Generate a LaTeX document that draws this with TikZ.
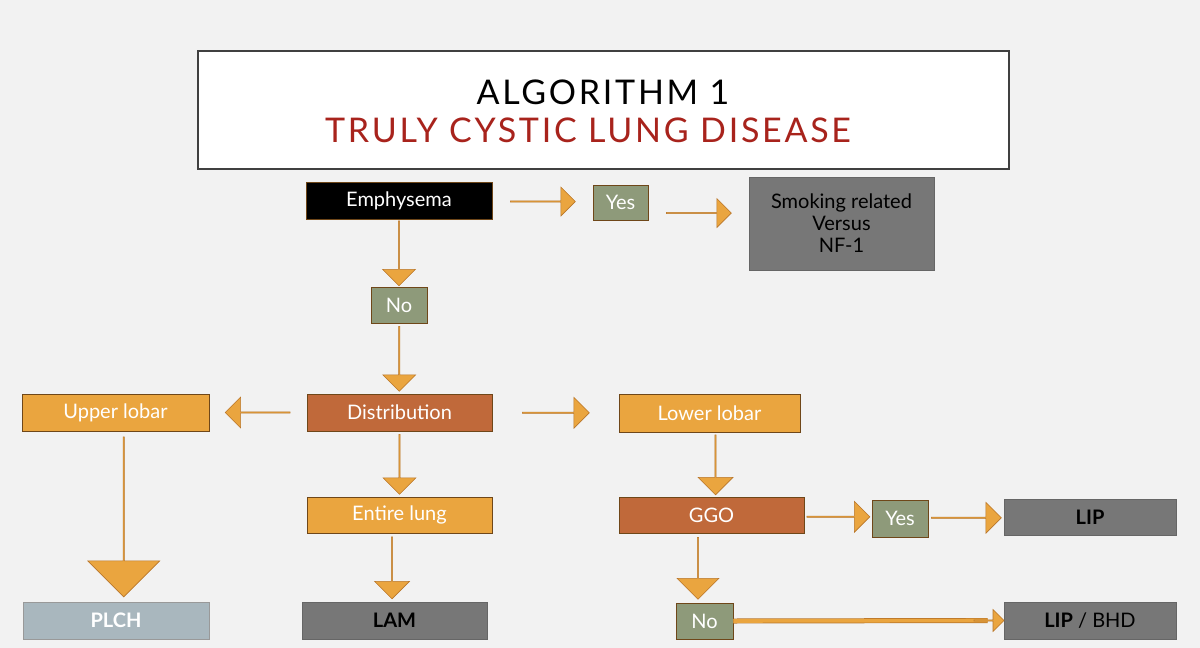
\documentclass[tikz,border=0pt]{standalone}
\usepackage{fontspec}
\setmainfont{Lato}
\usetikzlibrary{shapes.arrows,calc}
\definecolor{bg}{HTML}{F2F2F2}
\definecolor{org}{HTML}{EAA53F}
\definecolor{orgd}{HTML}{B9762A}
\definecolor{rust}{HTML}{C0693A}
\definecolor{sage}{HTML}{8E9A7A}
\definecolor{gry}{HTML}{777777}
\definecolor{plch}{HTML}{A9B7BE}
\definecolor{tred}{HTML}{A8231C}
\tikzset{
 box/.style={draw=orgd!60!black,line width=0.6pt,inner sep=0,font=\fontsize{20}{22}\selectfont,align=center},
 bx/.style n args={4}{box,minimum width=#1,minimum height=#2,fill=#3,text=#4},
 barrow/.style n args={3}{single arrow,draw=orgd,fill=org,line width=0.6pt,inner sep=0,
   minimum height=#1,minimum width=#2,single arrow head extend=#3,single arrow tip angle=90},
}
\begin{document}
\begin{tikzpicture}[x=1pt,y=-1pt]
\fill[bg] (0,0) rectangle (1200,648);
\useasboundingbox (0,0) rectangle (1200,648);
% title
\node[draw=black!75,line width=2.5pt,fill=white,minimum width=811,minimum height=118,inner sep=0] (title) at (603.5,110) {};
\node[font=\fontsize{34}{36}\selectfont\addfontfeatures{LetterSpace=8}] (t1) at (603,92) {ALGORITHM 1};
\node[font=\fontsize{34}{36}\selectfont\addfontfeatures{LetterSpace=8},text=tred] (t2) at (588,130) {TRULY CYSTIC LUNG DISEASE};
% boxes
\node[bx={186}{37}{black}{white}] (emph) at (399,200.5) {Emphysema};
\node[bx={55}{35}{sage}{white}] (yes1) at (620.5,202.5) {Yes};
\node[bx={185}{93}{gry}{black},draw=black!60] (smk) at (841.5,223.5) {Smoking related\\Versus\\NF-1};
\node[bx={56}{36}{sage}{white}] (no1) at (399,305) {No};
\node[bx={185}{37}{rust}{white}] (dist) at (399.5,412.5) {Distribution};
\node[bx={187}{37}{org}{white}] (upper) at (115.5,412.5) {Upper lobar};
\node[bx={181}{38}{org}{white}] (lower) at (709.5,413) {Lower lobar};
\node[bx={185}{36}{org}{white}] (entire) at (399.5,515) {Entire lung};
\node[bx={185}{36}{rust}{white}] (ggo) at (711.5,515) {GGO};
\node[bx={56}{37}{sage}{white}] (yes2) at (900,518.5) {Yes};
\node[bx={172}{36}{gry}{black},draw=black!60] (lip) at (1090,517) {\textbf{LIP}};
\node[bx={186}{37}{plch}{white},draw=black!40] (plchb) at (116,620.5) {\textbf{PLCH}};
\node[bx={185}{37}{gry}{black},draw=black!60] (lam) at (394.5,620.5) {\textbf{LAM}};
\node[bx={57}{36}{sage}{white}] (no2) at (704.5,621) {No};
\node[bx={172}{37}{gry}{black},draw=black!60] (bhd) at (1090,620.5) {\textbf{LIP} / BHD};
% arrows
\node[barrow={65}{29}{6.5}] (a1) at ($(emph.east)!0.5!(yes1.west)+(0,0)$) {};
\node[barrow={65}{29}{6.5}] (a2) at ($(yes1.east)!0.5!(smk.west)$) {};
\node[barrow={65}{33}{8},rotate=-90] (a3) at ($(emph.south)!0.5!(no1.north)$) {};
\node[barrow={65}{33}{8},rotate=-90] (a4) at ($(no1.south)!0.5!(dist.north)$) {};
\node[barrow={65}{31}{7},rotate=180] (a5) at ($(dist.west)!0.5!(upper.east)$) {};
\node[barrow={67}{31}{7}] (a6) at ($(dist.east)!0.5!(lower.west)$) {};
\node[barrow={60}{33}{8},rotate=-90] (a7) at ($(dist.south)!0.5!(entire.north)$) {};
\node[barrow={62}{35}{8},rotate=-90] (a8) at ($(entire.south)!0.5!(lam.north)+(-5,0)$) {};
\node[barrow={160}{72}{16},rotate=-90] (a9) at ($(upper.south)!0.5!(plchb.north)+(8,0)$) {};
\node[barrow={60}{35}{8},rotate=-90] (a10) at ($(lower.south)!0.5!(ggo.north)+(5,0)$) {};
\node[barrow={63}{31}{7}] (a11) at ($(ggo.east)!0.5!(yes2.west)$) {};
\node[barrow={70}{31}{7}] (a12) at ($(yes2.east)!0.5!(lip.west)$) {};
\node[barrow={62}{42}{10},rotate=-90] (a13) at ($(ggo.south)!0.5!(no2.north)+(-10,0)$) {};
\coordinate (lh) at ($(bhd.west)+(-16,0)$);
\draw[orgd,line width=5pt] (no2.east) -- (lh);
\draw[org,line width=3.6pt] (no2.east) -- (lh);
\node[barrow={30}{22}{5}] (a14) at ($(bhd.west)+(-15,0)$) {};
\end{tikzpicture}
\end{document}
